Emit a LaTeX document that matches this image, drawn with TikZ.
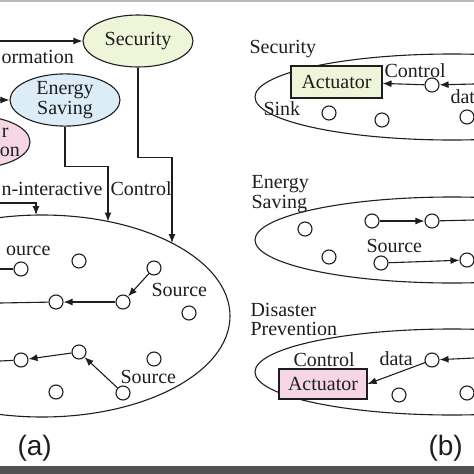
\documentclass[tikz,border=0pt]{standalone}
\usepackage{fontspec}
\setmainfont{Liberation Serif}
\newfontfamily\panelfont{Liberation Sans}
\usetikzlibrary{positioning,calc,shapes.geometric,arrows.meta}
\definecolor{secgreen}{HTML}{EFF5D9}
\definecolor{engblue}{HTML}{DCEDF8}
\definecolor{dispink}{HTML}{F6D6E5}
\definecolor{inkgray}{HTML}{1E1E1E}

\begin{document}
\begin{tikzpicture}[x=1pt,y=-1pt,line width=1.1pt,draw=inkgray,
    every node/.style={font=\fontsize{20}{19.5}\selectfont,text=inkgray},
    app/.style={ellipse,draw,inner sep=0pt,minimum width=110pt,minimum height=52pt,align=center},
    act/.style={rectangle,draw,inner sep=0pt,minimum width=91pt,minimum height=32pt},
    sn/.style={circle,draw,inner sep=0pt,minimum size=14pt},
    lbl/.style={anchor=base west,inner sep=0pt},
    arr/.style={-{Latex[length=9pt,width=7pt]}}]
    \useasboundingbox (0,0) rectangle (474,474);
    \fill[black!28] (0,0) rectangle (474,2);
    \fill[black!68] (0,466) rectangle (474,474);

    % (a) applications and the whole network
    \node[app,fill=secgreen] (secA) at (138,41) {Security};
    \node[app,fill=engblue] (engA) at (65,100) {Energy\\Saving};
    \node[app,fill=dispink] (disA) at (-25,142) {};
    \node[lbl,anchor=base east] at (9,137) {r};
    \node[lbl,anchor=base east] at (20.5,156) {on};
    \draw (42,316) ellipse [x radius=188pt,y radius=101pt];

    \coordinate (infoIn) at (0,41);
    \coordinate (engIn) at (0,100);
    \coordinate (niIn) at (0,203);
    \coordinate (hitN) at (36,215);
    \coordinate (hitE) at (108,221.5);
    \coordinate (hitS) at (172,243);
    \draw[arr] (infoIn) -- (secA.west);
    \draw[arr] (engIn) -- (engA.west);
    \draw[arr] (niIn) -| (hitN);
    \draw[arr] (engA.south) -- ++(0,40) -| (hitE);
    \draw[arr] (secA.south) -- ++(0,90) -| (hitS);
    \node[lbl] at (1,63) {ormation};
    \node[lbl] at (1,195) {n-interactive};
    \node[lbl] at (110,195) {Control};

    \foreach \n/\p in {a1/{(21,269)},a2/{(79,261)},a3/{(154,268)},a4/{(123,302)},
        a5/{(56,302)},a6/{(189,313)},a7/{(79,352)},a8/{(21,360)},
        a9/{(154,359)},a10/{(123,393)},a11/{(56,392)}}
        \node[sn] (\n) at \p {};
    \coordinate (o1) at (0,269);
    \coordinate (o5) at (0,303);
    \coordinate (o8) at (0,361);
    \draw (a1) -- (o1);
    \draw[arr] (a3) -- (a4);
    \draw[arr] (a4) -- (a5);
    \draw (a5) -- (o5);
    \draw[arr] (a10) -- (a7);
    \draw[arr] (a7) -- (a8);
    \draw (a8) -- (o8);
    \node[lbl,anchor=base east] at (51,255) {ource};
    \node[lbl] at (151,296) {Source};
    \node[lbl] at (120,383) {Source};
    \node[lbl,font=\panelfont\fontsize{28}{28}\selectfont] at (17,455) {(a)};

    % (b) one group of nodes for each application
    \draw (452,97) ellipse [x radius=197pt,y radius=43pt];
    \draw (452,240) ellipse [x radius=197pt,y radius=43pt];
    \draw (452,372) ellipse [x radius=197pt,y radius=43pt];

    % security
    \node[lbl] at (249,53) {Security};
    \node[act,fill=secgreen] (actS) at (336.5,82) {Actuator};
    \foreach \n/\p in {s1/{(432,85)},s2/{(329,113)},s3/{(382,120)},s4/{(467,117)}}
        \node[sn] (\n) at \p {};
    \coordinate (sIn) at (474,84);
    \draw[arr] (sIn) -- (s1);
    \draw[arr] (s1) -- (actS);
    \node[lbl] at (384,77) {Control};
    \node[lbl] at (450,103) {dat};
    \node[lbl] at (263,115) {Sink};

    % energy saving
    \node[anchor=north west,inner sep=0pt,align=left,font=\fontsize{20}{20}\selectfont] at (251,175) {Energy\\Saving};
    \foreach \n/\p in {e1/{(305,229)},e2/{(372,221)},e3/{(432,221)},e4/{(329,257)},
        e5/{(381,263)},e6/{(467,260)}}
        \node[sn] (\n) at \p {};
    \coordinate (eOut) at (474,220);
    \draw[arr] (e2) -- (e3);
    \draw (e3) -- (eOut);
    \draw[arr] (e5) -- (e6);
    \node[lbl] at (366,252) {Source};

    % disaster prevention
    \node[anchor=north west,inner sep=0pt,align=left,font=\fontsize{20}{19}\selectfont] at (250,303) {Disaster\\Prevention};
    \node[act,fill=dispink,minimum width=88pt,minimum height=30pt] (actD) at (323,384) {Actuator};
    \foreach \n/\p in {d1/{(432,360)},d2/{(399,395)},d3/{(467,393)}}
        \node[sn] (\n) at \p {};
    \coordinate (dIn) at (474,358);
    \draw[arr] (dIn) -- (d1);
    \draw[arr] (d1) -- (actD.east);
    \node[lbl] at (293,366) {Control};
    \node[lbl] at (379,365) {data};
    \node[lbl,font=\panelfont\fontsize{28}{28}\selectfont] at (428,455) {(b)};
\end{tikzpicture}
\end{document}
